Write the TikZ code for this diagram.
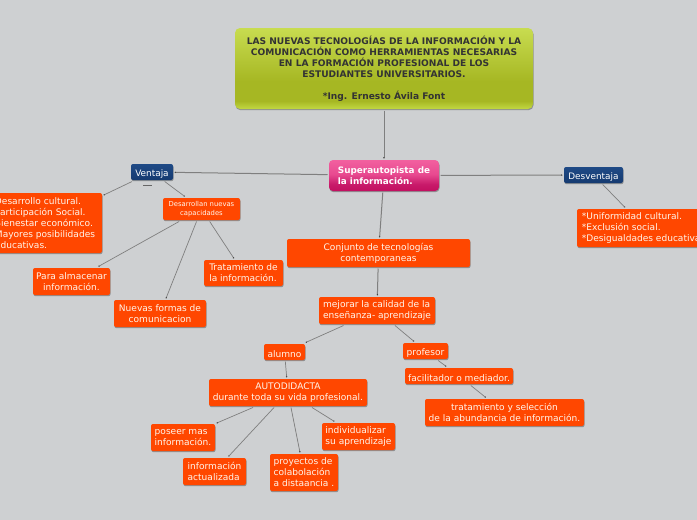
\documentclass[tikz,border=0pt]{standalone}
\usepackage{fontspec}
\setmainfont{DejaVu Sans}
\usetikzlibrary{shadows,arrows.meta}
\definecolor{bgc}{HTML}{CED0D2}
\definecolor{orangebox}{HTML}{FF4700}
\definecolor{linec}{HTML}{7F7F7F}
\definecolor{shadowc}{HTML}{8E9092}
\definecolor{tlA}{HTML}{C2D843}
\definecolor{tlB}{HTML}{A6B723}
\definecolor{tlC}{HTML}{C8DC50}
\definecolor{pkA}{HTML}{C20F60}
\definecolor{pkB}{HTML}{C81A6A}
\definecolor{pkC}{HTML}{E84A90}
\definecolor{pkD}{HTML}{F2609F}
\definecolor{nvA}{HTML}{153A70}
\definecolor{nvB}{HTML}{1F4A86}
\pgfdeclareverticalshading{titleshade}{100bp}{color(0bp)=(tlA); color(25bp)=(tlA); color(30bp)=(tlB); color(42bp)=(tlB); color(75bp)=(tlC); color(100bp)=(tlC)}
\pgfdeclareverticalshading{pinkshade}{100bp}{color(0bp)=(pkA); color(25bp)=(pkA); color(36bp)=(pkB); color(52bp)=(pkC); color(75bp)=(pkD); color(100bp)=(pkD)}
\pgfdeclareverticalshading{navyshade}{100bp}{color(0bp)=(nvA); color(25bp)=(nvA); color(75bp)=(nvB); color(100bp)=(nvB)}
\tikzset{
  x=1pt,y=-1pt,
  basebox/.style={rounded corners=2pt,inner sep=0pt,outer sep=1.5pt,text=white,
    drop shadow={shadow xshift=0.5pt,shadow yshift=-1.2pt,opacity=1,fill=shadowc}},
  lower/.style={execute at begin node={\rule{0pt}{#1}}},
  orbox/.style n args={2}{basebox,fill=orangebox,minimum width=#1,minimum height=#2,text=white!92!orange,
    font=\fontsize{9.05}{11}\selectfont,lower=10.5pt},
  navybox/.style n args={2}{basebox,shading=navyshade,minimum width=#1,minimum height=#2,
    font=\fontsize{8.9}{11}\selectfont,lower=10.5pt},
  link/.style={draw=linec,line width=0.7pt,-{Circle[length=1.6pt,fill=black!75,line width=0pt]}},
  mainlink/.style={link,line width=1pt},
}
\begin{document}
\begin{tikzpicture}
\path[use as bounding box,fill=bgc] (0,0) rectangle (697,520);
\node[basebox,rounded corners=5pt,shading=titleshade,minimum width=298,minimum height=81,align=center,text=black!80,
  font=\fontsize{9.1}{11}\selectfont\bfseries,lower=14pt] (title) at (384,68.5)
  {LAS NUEVAS TECNOLOGÍAS DE LA INFORMACIÓN Y LA\\COMUNICACIÓN COMO HERRAMIENTAS NECESARIAS\\EN LA FORMACIÓN PROFESIONAL DE LOS\\ESTUDIANTES UNIVERSITARIOS.\\[11pt]*Ing. Ernesto Ávila Font};
\node[basebox,rounded corners=4pt,shading=pinkshade,minimum width=110,minimum height=31,align=left,
  font=\fontsize{8.85}{11}\selectfont\bfseries,lower=10.5pt] (center) at (384,175.5) {Superautopista de\\la información.};
\node[navybox={42}{16}] (ventaja) at (152,172) {Ventaja};
\node[navybox={59}{16}] (desv) at (593.5,175) {Desventaja};
\node[orbox={114}{60},align=left] (desarrollo) at (45,223) {Desarrollo cultural.\\Participación Social.\\Bienestar económico.\\Mayores posibilidades\\educativas.};
\node[orbox={77}{22},align=center,font=\fontsize{6.8}{9}\selectfont,lower=8.5pt] (capac) at (201.5,209) {Desarrollan nuevas\\capacidades};
\node[orbox={77}{27},align=center] (para) at (71.5,281.5) {Para almacenar\\información.};
\node[orbox={92}{27},align=center] (nuevas) at (160,313.5) {Nuevas formas de\\comunicacion};
\node[orbox={79}{26},align=left] (trat) at (243.5,273) {Tratamiento de\\la información.};
\node[orbox={136}{38},align=left] (unif) at (645,228) {*Uniformidad cultural.\\*Exclusión social.\\*Desigualdades educativas.};
\node[orbox={183}{28},align=center] (conj) at (378.5,253) {Conjunto de tecnologías\\contemporaneas};
\node[orbox={116}{27},align=left] (mejorar) at (377,310.5) {mejorar la calidad de la\\enseñanza- aprendizaje};
\node[orbox={41}{16}] (alumno) at (284.5,352) {alumno};
\node[orbox={45}{16}] (profesor) at (425.5,351) {profesor};
\node[orbox={108}{16}] (facil) at (459,376) {facilitador o mediador.};
\node[orbox={159}{27},align=center] (tratsel) at (504.5,412.5) {tratamiento y selección\\de la abundancia de información.};
\node[orbox={158}{27},align=center] (auto) at (288,392.5) {AUTODIDACTA\\durante toda su vida profesional.};
\node[orbox={64}{27},align=left] (poseer) at (183,437.5) {poseer mas\\información.};
\node[orbox={63}{27},align=left] (infoact) at (214.5,471.5) {información\\actualizada};
\node[orbox={68}{37},align=left] (proy) at (304,472.5) {proyectos de\\colabolación\\a distaancia .};
\node[orbox={73}{27},align=left] (indiv) at (358.5,436.5) {individualizar\\su aprendizaje};
\draw[mainlink] (title) -- (center);
\draw[mainlink] (center) -- (ventaja);
\draw[mainlink] (center) -- (desv);
\draw[mainlink] (center) -- (conj);
\draw[link] (ventaja) -- (desarrollo);
\draw[link] (ventaja) -- (capac);
\draw[link] (capac) -- (para);
\draw[link] (capac) -- (nuevas);
\draw[link] (capac) -- (trat);
\draw[link] (desv) -- (unif);
\draw[mainlink] (conj) -- (mejorar);
\draw[link] (mejorar) -- (alumno);
\draw[link] (mejorar) -- (profesor);
\draw[link] (profesor) -- (facil);
\draw[link] (facil) -- (tratsel);
\draw[link] (alumno) -- (auto);
\draw[link] (auto) -- (poseer);
\draw[link] (auto) -- (infoact);
\draw[link] (auto) -- (proy);
\draw[link] (auto) -- (indiv);
\coordinate (collapseL) at (143,185.5);
\coordinate (collapseR) at (152,185.5);
\draw[draw=black!60,line width=0.7pt] (collapseL) -- (collapseR);
\end{tikzpicture}
\end{document}
